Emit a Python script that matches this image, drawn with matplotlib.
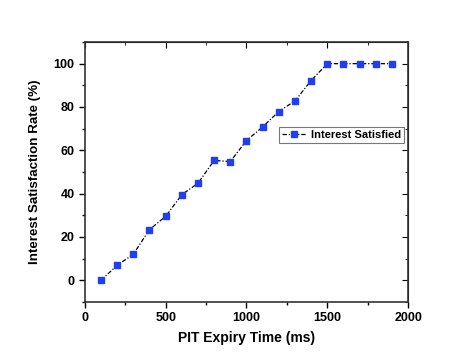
import matplotlib
matplotlib.use("Agg")
import matplotlib.pyplot as plt
from matplotlib.ticker import MultipleLocator

plt.rcParams['font.family'] = ['Liberation Sans', 'DejaVu Sans']
plt.rcParams['font.weight'] = 'bold'

# data
pit_expiry = [100, 200, 300, 400, 500, 600, 700, 800, 900, 1000,
              1100, 1200, 1300, 1400, 1500, 1600, 1700, 1800, 1900]
satisfied = [0, 6.9, 12, 23.4, 29.5, 39.5, 44.8, 55.3, 54.8, 64.5,
             70.8, 77.9, 82.8, 92.2, 100, 100, 100, 100, 100]

fig = plt.figure(figsize=(4.74, 3.62), dpi=100)
ax = fig.add_axes([0.179, 0.166, 0.682, 0.718])

line, = ax.plot(pit_expiry, satisfied, color='black', linewidth=0.9,
                marker='s', markersize=4.8, markerfacecolor='#1f3ff0',
                markeredgecolor='#1f3ff0', label='Interest Satisfied')
line.set_dashes([3.5, 1.5, 1, 1.5])

ax.set_xlim(0, 2000)
ax.set_ylim(-10, 110)
ax.xaxis.set_major_locator(MultipleLocator(500))
ax.xaxis.set_minor_locator(MultipleLocator(250))
ax.yaxis.set_major_locator(MultipleLocator(20))
ax.yaxis.set_minor_locator(MultipleLocator(10))
ax.tick_params(which='major', direction='out', length=4, width=1, labelsize=9)
ax.tick_params(which='minor', direction='out', length=2.5, width=1)
for lab in ax.get_xticklabels() + ax.get_yticklabels():
    lab.set_fontweight('bold')
for s in ax.spines.values():
    s.set_linewidth(1.2)
    s.set_color('#333333')

# mirrored inward ticks on top and right
top = ax.secondary_xaxis('top')
top.xaxis.set_major_locator(MultipleLocator(500))
top.xaxis.set_minor_locator(MultipleLocator(250))
top.tick_params(which='both', direction='in', labeltop=False)
top.tick_params(which='major', length=4)
top.tick_params(which='minor', length=2.5)
right = ax.secondary_yaxis('right')
right.yaxis.set_major_locator(MultipleLocator(20))
right.yaxis.set_minor_locator(MultipleLocator(10))
right.tick_params(which='both', direction='in', labelright=False)
right.tick_params(which='major', length=4)
right.tick_params(which='minor', length=2.5)

ax.set_xlabel('PIT Expiry Time (ms)', fontsize=10, fontweight='bold', labelpad=5)
ax.set_ylabel('Interest Satisfaction Rate (%)', fontsize=9.6, fontweight='bold',
              labelpad=9)

leg = ax.legend(loc='center right', bbox_to_anchor=(0.99, 0.642), fontsize=8,
                fancybox=False, edgecolor='#555555', borderpad=0.25,
                handlelength=2.2, handletextpad=0.4, borderaxespad=0.1)
leg.get_frame().set_linewidth(0.8)
for t in leg.get_texts():
    t.set_fontweight('bold')

fig.savefig('out.png', dpi=100)
